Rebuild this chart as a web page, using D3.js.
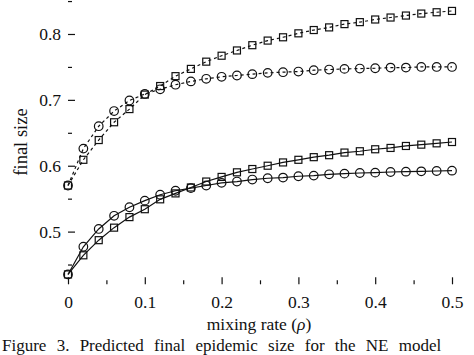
<!DOCTYPE html>
<html><head><meta charset="utf-8">
<script src="https://cdn.jsdelivr.net/npm/d3@7"></script>
<style>body{margin:0;background:#fff}svg{display:block}text{font-family:"Liberation Serif","Times New Roman",serif;fill:#111}</style>
</head><body><svg id="c" width="474" height="355"></svg>
<script>
const xs = [0,0.02,0.04,0.06,0.08,0.10,0.12,0.14,0.16,0.18,0.20,0.22,0.24,0.26,0.28,0.30,0.32,0.34,0.36,0.38,0.40,0.42,0.44,0.46,0.48,0.50];
const upperSquares = [0.570,0.609,0.639,0.666,0.686,0.708,0.721,0.736,0.747,0.758,0.767,0.775,0.783,0.790,0.795,0.801,0.806,0.810,0.815,0.818,0.822,0.825,0.828,0.831,0.833,0.835];
const upperCircles = [0.570,0.626,0.660,0.683,0.699,0.709,0.716,0.723,0.728,0.732,0.735,0.737,0.739,0.741,0.742,0.743,0.745,0.746,0.747,0.7475,0.748,0.749,0.749,0.750,0.750,0.750];
const lowerSquares = [0.435,0.464,0.487,0.506,0.522,0.534,0.549,0.558,0.567,0.576,0.583,0.590,0.595,0.600,0.605,0.609,0.613,0.616,0.620,0.622,0.625,0.627,0.630,0.632,0.634,0.636];
const lowerCircles = [0.435,0.477,0.504,0.524,0.537,0.547,0.556,0.562,0.566,0.570,0.574,0.576,0.579,0.581,0.582,0.584,0.585,0.587,0.588,0.589,0.5895,0.5905,0.591,0.5915,0.592,0.5925];
const xTicks = [0,0.1,0.2,0.3,0.4,0.5];
const yTicks = [0.5,0.6,0.7,0.8];
const xMinor = [0.05,0.15,0.25,0.35,0.45];
const yMinor = [0.45,0.55,0.65,0.75,0.85];

const svg = d3.select("#c");
const x = d3.scaleLinear().domain([0,0.5]).range([68,452]);
const y = d3.scaleLinear().domain([0.42,0.8516]).range([284.3,0]);

const series = [
  {vals: upperSquares, dash: "3,3", shape: "square"},
  {vals: upperCircles, dash: "3,3", shape: "circle"},
  {vals: lowerSquares, dash: null, shape: "square"},
  {vals: lowerCircles, dash: null, shape: "circle"}
];
const line = d3.line().x(d=>x(d[0])).y(d=>y(d[1]));
series.forEach(s=>{
  const pts = xs.map((v,i)=>[v,s.vals[i]]);
  svg.append("path").attr("d", line(pts)).attr("fill","none").attr("stroke","#111")
    .attr("stroke-width",1.2).attr("stroke-dasharray", s.dash);
  const g = svg.append("g");
  if (s.shape==="circle") {
    g.selectAll("circle").data(pts).join("circle").attr("cx",d=>x(d[0])).attr("cy",d=>y(d[1]))
      .attr("r",4.3).attr("fill","none").attr("stroke","#111").attr("stroke-width",1.2);
  } else {
    g.selectAll("rect").data(pts).join("rect").attr("x",d=>x(d[0])-3.5).attr("y",d=>y(d[1])-3.5)
      .attr("width",7).attr("height",7).attr("fill","none").attr("stroke","#111").attr("stroke-width",1.2);
  }
});

// axes
const ax = svg.append("g").attr("transform","translate(0,284.3)")
  .call(d3.axisBottom(x).tickValues(xTicks).tickSize(-7).tickPadding(11).tickFormat(d=>d===0?"0":d3.format(".1f")(d)));
ax.append("g").call(d3.axisBottom(x).tickValues(xMinor).tickSize(-4).tickFormat(""));
const ay = svg.append("g").attr("transform","translate(68,0)")
  .call(d3.axisLeft(y).tickValues(yTicks).tickSize(-7).tickPadding(7).tickFormat(d3.format(".1f")));
ay.append("g").call(d3.axisLeft(y).tickValues(yMinor).tickSize(-4).tickFormat(""));
svg.selectAll(".domain").attr("stroke","#111").attr("stroke-width",1.3);
svg.selectAll(".tick line").attr("stroke","#111").attr("stroke-width",1.2);
svg.selectAll(".tick text").attr("font-size",17.5).attr("fill","#111");
ax.select(".domain").attr("d","M68,0H452");
ay.select(".domain").attr("d","M0,0V284.3");
ax.selectAll("g .domain").remove();
ay.selectAll("g .domain").remove();

svg.append("text").attr("x",259).attr("y",330).attr("text-anchor","middle").attr("font-size",17.5)
  .html('mixing rate (<tspan font-style="italic">ρ</tspan>)');
svg.append("text").attr("transform","translate(27,142) rotate(-90)").attr("text-anchor","middle")
  .attr("font-size",18.5).text("final size");
svg.append("text").attr("x",2).attr("y",351).attr("font-size",17).attr("word-spacing",6)
  .text("Figure 3. Predicted final epidemic size for the NE model");
</script></body></html>
